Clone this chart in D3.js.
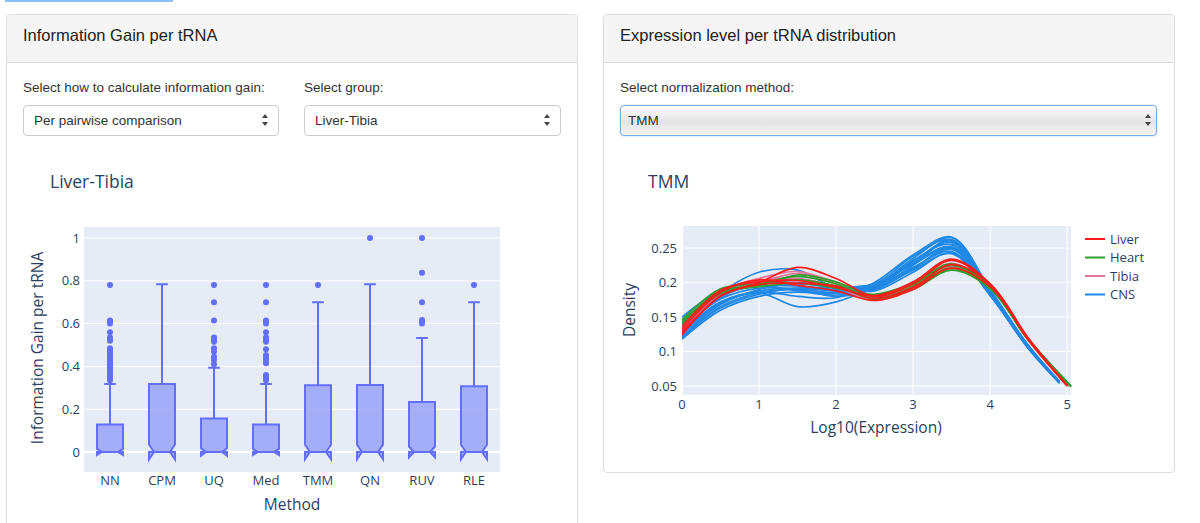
<!DOCTYPE html>
<html>
<head>
<meta charset="utf-8">
<script src="https://cdn.jsdelivr.net/npm/d3@7"></script>
<style>
body { margin: 0; width: 1200px; height: 523px; overflow: hidden; background: #fff; position: relative;
       font-family: "Helvetica Neue", Helvetica, Arial, "Liberation Sans", sans-serif; color: #333; }
.topbar { position: absolute; left: 5px; top: 0; width: 168px; height: 2px; background: #8cbff5; }
.panel { position: absolute; border: 1px solid #ddd; border-radius: 4px; background: #fff; box-sizing: border-box; }
.panel .head { height: 48px; background: #f5f5f5; border-bottom: 1px solid #ddd; border-radius: 4px 4px 0 0;
               font-size: 16.5px; line-height: 41px; padding-left: 16px; box-sizing: border-box; color: #222; }
.lbl { position: absolute; font-size: 13.5px; line-height: 16px; }
.sel { position: absolute; height: 31px; box-sizing: border-box; border: 1px solid #ccc; border-radius: 4px;
       font-size: 13.5px; line-height: 29px; padding-left: 10px; background: #fff; }
.sel.focus { border-color: #7aaeea; box-shadow: 0 0 2px #a5cbf5; padding-left: 7px;
             background: linear-gradient(#fdfdfd, #e4e4e4 55%, #f4f4f4); }
#chart { position: absolute; left: 0; top: 0; }
</style>
</head>
<body>
<div class="topbar"></div>
<div class="panel" style="left:6px;top:14px;width:572px;height:540px;"><div class="head">Information Gain per tRNA</div></div>
<div class="panel" style="left:603px;top:14px;width:572px;height:459px;"><div class="head">Expression level per tRNA distribution</div></div>

<div class="lbl" style="left:23px;top:80px;">Select how to calculate information gain:</div>
<div class="lbl" style="left:304px;top:80px;">Select group:</div>
<div class="lbl" style="left:620px;top:80px;">Select normalization method:</div>
<div class="sel" style="left:23px;top:105px;width:256px;">Per pairwise comparison</div>
<div class="sel" style="left:304px;top:105px;width:257px;">Liver-Tibia</div>
<div class="sel focus" style="left:620px;top:105px;width:537px;">TMM</div>

<script>
// ---- box plot data (Liver-Tibia) ----
const methods = ["NN", "CPM", "UQ", "Med", "TMM", "QN", "RUV", "RLE"];
const q1 = [0, 0, 0, 0, 0, 0, 0, 0];
const medians = [0, 0, 0, 0, 0, 0, 0, 0];
const q3 = [0.129, 0.318, 0.157, 0.129, 0.312, 0.313, 0.234, 0.307];
const upperWhisker = [0.318, 0.784, 0.394, 0.318, 0.70, 0.784, 0.533, 0.70];
const outliers = [
  [0.78, 0.615, 0.61, 0.6, 0.56, 0.535, 0.525, 0.52, 0.485, 0.475, 0.465, 0.455, 0.445, 0.435,
   0.425, 0.415, 0.405, 0.395, 0.385, 0.375, 0.365, 0.355, 0.345, 0.335],
  [],
  [0.78, 0.70, 0.615, 0.535, 0.525, 0.515, 0.485, 0.47, 0.445, 0.43, 0.41],
  [0.78, 0.70, 0.615, 0.607, 0.6, 0.56, 0.535, 0.525, 0.515, 0.48, 0.453, 0.44, 0.43, 0.415,
   0.36, 0.35, 0.342, 0.335],
  [0.78],
  [1.0],
  [1.0, 0.838, 0.70, 0.617, 0.61, 0.6],
  [0.78]
];
const nTRNA = 206; // used for the notch half span 1.57*IQR/sqrt(n)
const boxTicks = [0, 0.2, 0.4, 0.6, 0.8, 1];

// ---- density data (TMM), y values at gridX then at the group's end x ----
const gridX = [0, 0.5, 1, 1.5, 2, 2.5, 3, 3.5, 4, 4.5];
const groups = ["Liver", "Heart", "Tibia", "CNS"];
const groupColors = ["#ff1a1a", "#2ca02c", "#e8749c", "#1f88e5"];
const endX = [5.0, 5.05, 5.02, 4.9];
const liverCurves = [
  [0.128, 0.180, 0.200, 0.222, 0.206, 0.180, 0.198, 0.232, 0.197, 0.118, 0.051],
  [0.124, 0.181, 0.197, 0.199, 0.195, 0.177, 0.193, 0.226, 0.198, 0.119, 0.050],
  [0.132, 0.186, 0.204, 0.196, 0.188, 0.174, 0.190, 0.221, 0.194, 0.117, 0.051],
  [0.136, 0.189, 0.201, 0.203, 0.193, 0.181, 0.201, 0.234, 0.198, 0.116, 0.050]
];
const heartCurves = [
  [0.146, 0.191, 0.198, 0.209, 0.198, 0.177, 0.194, 0.221, 0.192, 0.116, 0.049],
  [0.142, 0.188, 0.195, 0.211, 0.201, 0.180, 0.197, 0.225, 0.194, 0.117, 0.049],
  [0.139, 0.185, 0.197, 0.204, 0.195, 0.176, 0.190, 0.218, 0.191, 0.117, 0.050],
  [0.137, 0.184, 0.194, 0.199, 0.192, 0.183, 0.199, 0.227, 0.195, 0.118, 0.050]
];
const tibiaCurves = [
  [0.133, 0.186, 0.206, 0.216, 0.200, 0.175, 0.194, 0.223, 0.194, 0.116, 0.050],
  [0.130, 0.183, 0.200, 0.213, 0.198, 0.178, 0.196, 0.228, 0.195, 0.117, 0.050],
  [0.136, 0.188, 0.203, 0.206, 0.194, 0.174, 0.192, 0.220, 0.193, 0.116, 0.050],
  [0.134, 0.185, 0.199, 0.203, 0.194, 0.179, 0.197, 0.225, 0.195, 0.117, 0.050]
];
const cnsCurves = [
  [0.120, 0.165, 0.185, 0.190, 0.185, 0.190, 0.225, 0.262, 0.185, 0.105, 0.055],
  [0.125, 0.170, 0.188, 0.192, 0.188, 0.195, 0.235, 0.265, 0.190, 0.108, 0.055],
  [0.118, 0.160, 0.180, 0.186, 0.182, 0.192, 0.230, 0.260, 0.185, 0.104, 0.055],
  [0.130, 0.178, 0.200, 0.205, 0.195, 0.198, 0.238, 0.262, 0.188, 0.106, 0.056],
  [0.135, 0.185, 0.215, 0.218, 0.192, 0.190, 0.220, 0.250, 0.183, 0.104, 0.055],
  [0.128, 0.172, 0.185, 0.165, 0.172, 0.195, 0.230, 0.258, 0.186, 0.106, 0.056],
  [0.140, 0.182, 0.195, 0.195, 0.190, 0.195, 0.222, 0.245, 0.184, 0.108, 0.056],
  [0.122, 0.168, 0.190, 0.198, 0.192, 0.188, 0.215, 0.243, 0.182, 0.106, 0.055],
  [0.132, 0.176, 0.192, 0.190, 0.180, 0.192, 0.232, 0.255, 0.186, 0.106, 0.055],
  [0.145, 0.185, 0.198, 0.200, 0.195, 0.193, 0.220, 0.248, 0.186, 0.108, 0.057],
  [0.126, 0.170, 0.186, 0.180, 0.178, 0.200, 0.240, 0.266, 0.190, 0.107, 0.055],
  [0.137, 0.180, 0.195, 0.188, 0.185, 0.196, 0.228, 0.252, 0.185, 0.107, 0.056],
  [0.120, 0.163, 0.183, 0.192, 0.193, 0.198, 0.226, 0.250, 0.183, 0.105, 0.055],
  [0.150, 0.188, 0.200, 0.196, 0.188, 0.192, 0.218, 0.242, 0.181, 0.104, 0.054]
];
const densityXTicks = [0, 1, 2, 3, 4, 5];
const densityYTicks = [0.05, 0.1, 0.15, 0.2, 0.25];

const plotFont = '"Open Sans", verdana, arial, sans-serif';
const ink = "#2a3f5f";
const boxColor = "#636efa";

let svg = d3.select("body").append("svg")
    .attr("id", "chart")
    .attr("width", 1200)
    .attr("height", 523)
    .style("font-family", plotFont);

// select arrows
[265, 547, 1148].forEach(cx => {
    svg.append("path")
        .attr("d", `M${cx - 3},118 L${cx + 3},118 L${cx},114 Z M${cx - 3},122 L${cx + 3},122 L${cx},126 Z`)
        .attr("fill", "#444");
});

// ================= box plot =================
let bx = d3.scaleBand().domain(methods).range([84, 500]);
let by = d3.scaleLinear().domain([-0.0935, 1.0514]).range([472, 227]);

let g1 = svg.append("g");
g1.append("rect").attr("x", 84).attr("y", 227).attr("width", 416).attr("height", 245).attr("fill", "#e5ecf6");

g1.selectAll(".ygrid").data(boxTicks).enter().append("line")
    .attr("x1", 84).attr("x2", 500)
    .attr("y1", d => by(d)).attr("y2", d => by(d))
    .attr("stroke", "#fff").attr("stroke-width", d => d === 0 ? 2 : 1);

g1.selectAll(".ytick").data(boxTicks).enter().append("text")
    .attr("x", 80).attr("y", d => by(d)).attr("dy", "0.35em")
    .attr("text-anchor", "end").attr("font-size", 13).attr("fill", ink)
    .text(d3.format("~g"));

g1.selectAll(".xtick").data(methods).enter().append("text")
    .attr("x", d => bx(d) + bx.bandwidth() / 2).attr("y", 485)
    .attr("text-anchor", "middle").attr("font-size", 13).attr("fill", ink)
    .text(d => d);

g1.append("text").attr("x", 292).attr("y", 510).attr("text-anchor", "middle")
    .attr("font-size", 15.5).attr("fill", ink).text("Method");
g1.append("text").attr("transform", "translate(43,348) rotate(-90)").attr("text-anchor", "middle")
    .attr("font-size", 15.5).attr("fill", ink).text("Information Gain per tRNA");
g1.append("text").attr("x", 50).attr("y", 188).attr("font-size", 17.5).attr("fill", ink).text("Liver-Tibia");

let boxes = methods.map((m, i) => ({
    m, q1: q1[i], med: medians[i], q3: q3[i], hi: upperWhisker[i], out: outliers[i],
    notch: 1.57 * (q3[i] - q1[i]) / Math.sqrt(nTRNA)
}));

let half = bx.bandwidth() * 0.25;
let notchIn = half * 0.38;
let capHalf = half * 0.45;

let box = g1.selectAll(".box").data(boxes).enter().append("g")
    .attr("transform", d => `translate(${bx(d.m) + bx.bandwidth() / 2},0)`);

// whisker
box.append("path")
    .attr("d", d => `M0,${by(d.q3)}V${by(d.hi)}M${-capHalf},${by(d.hi)}H${capHalf}`)
    .attr("stroke", boxColor).attr("stroke-width", 2).attr("fill", "none");

// notched box, same path order plotly uses
box.append("path")
    .attr("d", d => {
        let m = by(d.med), ln = by(d.med - d.notch), un = by(d.med + d.notch);
        return `M${-half + notchIn},${m}L${-half},${ln}V${by(d.q1)}H${half}V${ln}` +
               `L${half - notchIn},${m}L${half},${un}V${by(d.q3)}H${-half}V${un}Z`;
    })
    .attr("fill", boxColor).attr("fill-opacity", 0.5)
    .attr("stroke", boxColor).attr("stroke-width", 2).attr("stroke-linejoin", "miter");

box.append("line")
    .attr("x1", -half + notchIn).attr("x2", half - notchIn)
    .attr("y1", d => by(d.med)).attr("y2", d => by(d.med))
    .attr("stroke", boxColor).attr("stroke-width", 2);

box.selectAll(".pt").data(d => d.out).enter().append("circle")
    .attr("cx", 0).attr("cy", d => by(d)).attr("r", 3)
    .attr("fill", boxColor);

// ================= density plot =================
let dx = d3.scaleLinear().domain([0, 5.05]).range([682, 1071]);
let dy = d3.scaleLinear().domain([0.037, 0.282]).range([395, 226]);

let g2 = svg.append("g");
g2.append("rect").attr("x", 682).attr("y", 226).attr("width", 389).attr("height", 169).attr("fill", "#e5ecf6");

g2.selectAll(".xg").data(densityXTicks).enter().append("line")
    .attr("x1", d => dx(d)).attr("x2", d => dx(d)).attr("y1", 226).attr("y2", 395)
    .attr("stroke", "#fff").attr("stroke-width", d => d === 0 ? 2 : 1);
g2.selectAll(".yg").data(densityYTicks).enter().append("line")
    .attr("x1", 682).attr("x2", 1071).attr("y1", d => dy(d)).attr("y2", d => dy(d))
    .attr("stroke", "#fff").attr("stroke-width", 1);

g2.selectAll(".xt").data(densityXTicks).enter().append("text")
    .attr("x", d => dx(d)).attr("y", 409).attr("text-anchor", "middle")
    .attr("font-size", 13).attr("fill", ink).text(d => d);
g2.selectAll(".yt").data(densityYTicks).enter().append("text")
    .attr("x", 677).attr("y", d => dy(d)).attr("dy", "0.35em").attr("text-anchor", "end")
    .attr("font-size", 13).attr("fill", ink).text(d3.format("~g"));

g2.append("text").attr("x", 876).attr("y", 433).attr("text-anchor", "middle")
    .attr("font-size", 15.5).attr("fill", ink).text("Log10(Expression)");
g2.append("text").attr("transform", "translate(635,310) rotate(-90)").attr("text-anchor", "middle")
    .attr("font-size", 15.5).attr("fill", ink).text("Density");
g2.append("text").attr("x", 648).attr("y", 188).attr("font-size", 17.5).attr("fill", ink).text("TMM");

svg.append("clipPath").attr("id", "dclip").append("rect")
    .attr("x", 682).attr("y", 226).attr("width", 392).attr("height", 169);

let line = d3.line().x(d => dx(d[0])).y(d => dy(d[1])).curve(d3.curveCatmullRom);
let curveSets = [liverCurves, heartCurves, tibiaCurves, cnsCurves];

// draw CNS first so the smaller groups sit on top
let drawOrder = [3, 2, 1, 0];
let lines = g2.append("g").attr("clip-path", "url(#dclip)");
drawOrder.forEach(gi => {
    curveSets[gi].forEach(ys => {
        let pts = ys.map((y, k) => [k < gridX.length ? gridX[k] : endX[gi], y]);
        lines.append("path").attr("d", line(pts))
            .attr("fill", "none").attr("stroke", groupColors[gi]).attr("stroke-width", 1.7);
    });
});

// legend
let leg = g2.selectAll(".leg").data(groups).enter().append("g")
    .attr("transform", (d, i) => `translate(1085,${239 + i * 18.5})`);
leg.append("line").attr("x1", 0).attr("x2", 20)
    .attr("stroke", (d, i) => groupColors[i]).attr("stroke-width", 2);
leg.append("text").attr("x", 25).attr("dy", "0.35em").attr("font-size", 13).attr("fill", ink).text(d => d);
</script>
</body>
</html>
